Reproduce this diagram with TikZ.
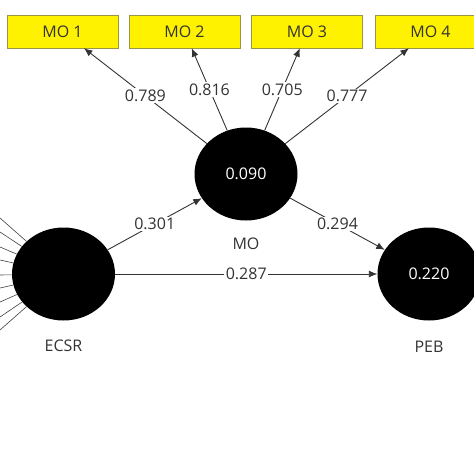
\documentclass[tikz,border=0pt]{standalone}
\usepackage{fontspec}
\setmainfont{Open Sans}
\usetikzlibrary{arrows.meta, positioning, shapes.geometric}

\begin{document}
\begin{tikzpicture}[x=1pt, y=-1pt, >={Latex[length=8.5pt, width=7pt]},
    every node/.style={font=\fontsize{16}{19}\selectfont, text=black!80},
    indic/.style={draw=yellow!55!black, fill=yellow, minimum width=111pt, minimum height=33pt, inner sep=0pt},
    latent/.style={ellipse, fill=black, text=white, minimum width=103pt, minimum height=93pt, inner sep=0pt},
    coef/.style={fill=white, inner sep=1.5pt},
    link/.style={->, draw=black!80, line width=0.9pt}]
    \useasboundingbox (0,0) rectangle (474,474);

    % indicators
    \node[indic] (mo1) at (62.5,31.5) {MO 1};
    \node[indic] (mo2) at (184.5,31.5) {MO 2};
    \node[indic] (mo3) at (307,31.5) {MO 3};
    \node[indic] (mo4) at (430.5,31.5) {MO 4};

    % constructs
    \node[latent] (mo) at (246,174) {0.090};
    \node[latent] (ecsr) at (63.5,274) {};
    \node[latent] (peb) at (429,274) {0.220};
    \node[below=17pt of mo.south, inner sep=0pt] (molbl) {MO};
    \node[below=19pt of ecsr.south, inner sep=0pt] (ecsrlbl) {ECSR};
    \node[below=20pt of peb.south, inner sep=0pt] (peblbl) {PEB};

    % outer loadings
    \draw[link] (mo) -- node[coef] {0.789} (mo1);
    \draw[link] (mo) -- node[coef] {0.816} (mo2);
    \draw[link] (mo) -- node[coef] {0.705} (mo3);
    \draw[link] (mo) -- node[coef] {0.777} (mo4);

    % path coefficients
    \draw[link] (ecsr) -- node[coef] {0.301} (mo);
    \draw[link] (mo) -- node[coef] {0.294} (peb);
    \draw[link] (ecsr) -- node[coef] {0.287} (peb);

    % ECSR items (off the page)
    \foreach \y [count=\i] in {218,232,247,260,275,288,302,317,330} {
        \coordinate (e\i) at (0,\y);
        \draw[black!75, line width=0.6pt] (ecsr) -- (e\i);
    }
\end{tikzpicture}
\end{document}
